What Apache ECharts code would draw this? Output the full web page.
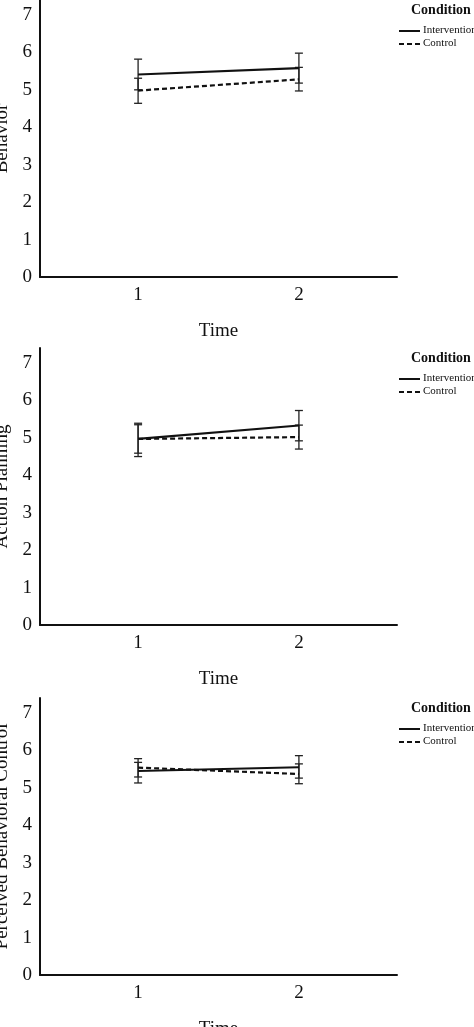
<!DOCTYPE html>
<html><head><meta charset="utf-8">
<script src="https://cdn.jsdelivr.net/npm/echarts@6/dist/echarts.min.js"></script>
<style>html,body{margin:0;background:#fff}#c{width:474px;height:1027px}</style>
</head><body><div id="c"></div>
<script>
const times = [1, 2];
const yTicks = [0,1,2,3,4,5,6,7];
const panelNames = ['Behavior', 'Action Planning', 'Perceived Behavioral Control'];
const legendTitle = 'Condition';
const legendNames = ['Intervention', 'Control'];
// mean, low, high per time
const intMean = [[5.41, 5.58], [4.97, 5.33], [5.45, 5.55]];
const intLow  = [[5.00, 5.18], [4.50, 4.92], [5.13, 5.26]];
const intHigh = [[5.82, 5.98], [5.39, 5.73], [5.78, 5.86]];
const ctlMean = [[4.98, 5.28], [4.97, 5.02], [5.54, 5.37]];
const ctlLow  = [[4.64, 4.97], [4.59, 4.70], [5.29, 5.11]];
const ctlHigh = [[5.31, 5.60], [5.35, 5.34], [5.68, 5.64]];

const font = 'Liberation Serif';
const tops = [0, 348, 698];
const grid = [], xAxis = [], yAxis = [], series = [], graphic = [];
function errItem(params, api) {
  const x = api.value(0);
  const a = api.coord([x, api.value(1)]);
  const b = api.coord([x, api.value(2)]);
  const w = 4;
  const st = {stroke: '#222', lineWidth: 1.3};
  return {type: 'group', children: [
    {type: 'line', shape: {x1: a[0], y1: a[1], x2: b[0], y2: b[1]}, style: st},
    {type: 'line', shape: {x1: a[0]-w, y1: a[1], x2: a[0]+w, y2: a[1]}, style: st},
    {type: 'line', shape: {x1: b[0]-w, y1: b[1], x2: b[0]+w, y2: b[1]}, style: st}
  ]};
}
panelNames.forEach((nm, i) => {
  grid.push({left: 40, top: tops[i], width: 357, height: 277, outerBoundsMode: 'none', containLabel: false});
  xAxis.push({type: 'value', gridIndex: i, min: 0.39, max: 2.61,
    name: 'Time', nameLocation: 'middle', nameGap: 45,
    nameTextStyle: {fontFamily: font, fontSize: 19, color: '#111'},
    axisLine: {lineStyle: {color: '#111', width: 2}}, axisTick: {show: false},
    splitLine: {show: false},
    axisLabel: {customValues: times, fontFamily: font, fontSize: 19, color: '#111', margin: 9}});
  yAxis.push({type: 'value', gridIndex: i, min: 0, max: 7.4,
    name: nm, nameLocation: 'middle', nameGap: 26,
    nameTextStyle: {fontFamily: font, fontSize: 19, color: '#111'},
    axisLine: {show: true, lineStyle: {color: '#111', width: 2}}, axisTick: {show: false},
    splitLine: {show: false},
    axisLabel: {customValues: yTicks, fontFamily: font, fontSize: 19, color: '#111', margin: 8}});
  const mk = (name, mean, dash) => ({name, type: 'line', xAxisIndex: i, yAxisIndex: i,
    data: times.map((t, k) => [t, mean[i][k]]), symbol: 'none',
    lineStyle: {color: '#111', width: 2.2, type: dash}, itemStyle: {color: '#111'}});
  series.push(mk(legendNames[0], intMean, 'solid'));
  series.push(mk(legendNames[1], ctlMean, [5, 3]));
  [[intLow, intHigh], [ctlLow, ctlHigh]].forEach(([lo, hi]) => {
    series.push({type: 'custom', xAxisIndex: i, yAxisIndex: i, renderItem: errItem,
      data: times.map((t, k) => [t, lo[i][k], hi[i][k]])});
  });
  const t = tops[i];
  graphic.push({type: 'text', left: 411, top: t + 3,
    style: {text: legendTitle, font: 'bold 14px "Liberation Serif"', fill: '#111'}});
  graphic.push({type: 'line', shape: {x1: 399, y1: t + 31, x2: 420, y2: t + 31},
    style: {stroke: '#111', lineWidth: 2}});
  graphic.push({type: 'line', shape: {x1: 399, y1: t + 44, x2: 420, y2: t + 44},
    style: {stroke: '#111', lineWidth: 2, lineDash: [5, 3]}});
  graphic.push({type: 'text', left: 423, top: t + 25,
    style: {text: legendNames[0], font: '11px "Liberation Serif"', fill: '#111'}});
  graphic.push({type: 'text', left: 423, top: t + 38,
    style: {text: legendNames[1], font: '11px "Liberation Serif"', fill: '#111'}});
});
const chart = echarts.init(document.getElementById('c'));
chart.setOption({animation: false, grid, xAxis, yAxis, series, graphic});
</script></body></html>
